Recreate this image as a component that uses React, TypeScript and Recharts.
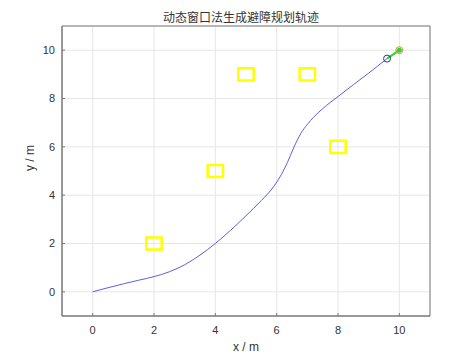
import {
  ComposedChart,
  Line,
  Scatter,
  XAxis,
  YAxis,
  CartesianGrid,
  ReferenceArea,
} from "recharts";

const TITLE = "动态窗口法生成避障规划轨迹";
const X_TICKS = [0, 2, 4, 6, 8, 10];
const Y_TICKS = [0, 2, 4, 6, 8, 10];

// robot path (x, y)
const PATH_X = [0, 0.5, 1, 1.5, 2, 2.5, 3, 3.5, 4, 4.5, 5, 5.5, 5.9, 6.15, 6.35, 6.55, 6.8, 7.0, 7.2, 7.5, 8, 8.5, 9, 9.3, 9.6];
const PATH_Y = [0, 0.17, 0.33, 0.48, 0.63, 0.83, 1.12, 1.52, 2.0, 2.55, 3.15, 3.78, 4.35, 4.85, 5.35, 5.95, 6.58, 6.93, 7.22, 7.58, 8.08, 8.57, 9.05, 9.35, 9.65];

// obstacles (centres), drawn as 0.5 x 0.5 squares
const OBS_X = [2, 4, 5, 7, 8];
const OBS_Y = [2, 5, 9, 9, 6];
const OBS_HALF = 0.25;

const ROBOT = [{ x: 9.6, y: 9.65 }];
const GOAL = [{ x: 10, y: 10 }];
const HEADING = [
  { x: 9.6, y: 9.65 },
  { x: 10, y: 10 },
];

const path = PATH_X.map((x, i) => ({ x, y: PATH_Y[i] }));

const FONT = "'Liberation Sans', 'Noto Sans CJK SC', sans-serif";
const AXIS = "#7a7a7a";

const ringShape = (color: string, r: number) => (props: any) =>
  <circle cx={props.cx} cy={props.cy} r={r} fill="none" stroke={color} strokeWidth={1} />;

const dotShape = (color: string, r: number) => (props: any) =>
  <circle cx={props.cx} cy={props.cy} r={r} fill={color} stroke="none" />;

export default function App() {
  return (
    <div style={{ position: "relative", width: 466, height: 347, fontFamily: FONT }}>
      <div
        style={{
          position: "absolute",
          top: 0,
          width: 466,
          textAlign: "center",
          fontSize: 12,
          color: "#333",
        }}
      >
        {TITLE}
      </div>
      <ComposedChart
        width={466}
        height={347}
        margin={{ top: 18, right: 44, bottom: 0, left: 0 }}
        style={{ fontFamily: FONT }}
      >
        <CartesianGrid xAxisId="b" yAxisId="l" stroke="#e6e6e6" vertical horizontal />
        <XAxis
          xAxisId="b"
          type="number"
          dataKey="x"
          domain={[-1, 11]}
          ticks={X_TICKS}
          allowDataOverflow
          stroke={AXIS}
          tickSize={-3}
          tickMargin={13}
          tick={{ fill: "#333", fontSize: 11 }}
          height={39}
          label={{ value: "x / m", position: "insideBottom", offset: 4, fill: "#333", fontSize: 12 }}
        />
        <XAxis
          xAxisId="t"
          orientation="top"
          type="number"
          dataKey="x"
          domain={[-1, 11]}
          ticks={X_TICKS}
          allowDataOverflow
          stroke={AXIS}
          tickSize={-3}
          tick={false}
          height={0}
        />
        <YAxis
          yAxisId="l"
          type="number"
          dataKey="y"
          domain={[-1, 11]}
          ticks={Y_TICKS}
          allowDataOverflow
          stroke={AXIS}
          tickSize={-3}
          tickMargin={10}
          tick={{ fill: "#333", fontSize: 11 }}
          width={54}
          label={{ value: "y / m", angle: -90, position: "insideLeft", offset: 22, fill: "#333", fontSize: 12 }}
        />
        <YAxis
          yAxisId="r"
          orientation="right"
          type="number"
          dataKey="y"
          domain={[-1, 11]}
          ticks={Y_TICKS}
          allowDataOverflow
          stroke={AXIS}
          tickSize={-3}
          tick={false}
          width={0}
        />
        <ReferenceArea
          xAxisId="b"
          yAxisId="l"
          x1={-1}
          x2={11}
          y1={-1}
          y2={11}
          fill="none"
          fillOpacity={0}
          stroke={AXIS}
          strokeWidth={1}
        />
        {OBS_X.map((ox, i) => (
          <ReferenceArea
            key={i}
            xAxisId="b"
            yAxisId="l"
            x1={ox - OBS_HALF}
            x2={ox + OBS_HALF}
            y1={OBS_Y[i] - OBS_HALF}
            y2={OBS_Y[i] + OBS_HALF}
            fill="none"
            fillOpacity={0}
            stroke="#ffff00"
            strokeWidth={2.5}
            ifOverflow="visible"
          />
        ))}
        <Line
          xAxisId="b"
          yAxisId="l"
          data={path}
          dataKey="y"
          type="monotone"
          stroke="#5f5fdc"
          strokeWidth={1}
          dot={false}
          isAnimationActive={false}
        />
        <Line
          xAxisId="b"
          yAxisId="l"
          data={HEADING}
          dataKey="y"
          type="linear"
          stroke="#22dd22"
          strokeWidth={2}
          dot={false}
          isAnimationActive={false}
        />
        <Scatter xAxisId="b" yAxisId="l" data={ROBOT} shape={ringShape("#333399", 3.5)} isAnimationActive={false} />
        <Scatter xAxisId="b" yAxisId="l" data={GOAL} shape={dotShape("#22dd22", 2.5)} isAnimationActive={false} />
        <Scatter xAxisId="b" yAxisId="l" data={GOAL} shape={ringShape("#e88a50", 3.5)} isAnimationActive={false} />
      </ComposedChart>
    </div>
  );
}
